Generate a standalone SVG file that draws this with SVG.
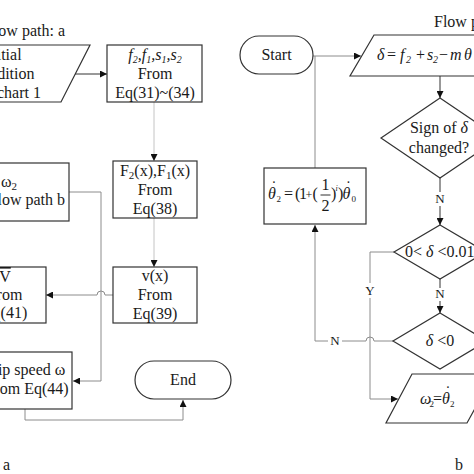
<svg xmlns="http://www.w3.org/2000/svg" width="474" height="474" viewBox="0 0 474 474">
<defs>
<marker id="ah" viewBox="0 0 10 10" refX="10" refY="5" markerWidth="7" markerHeight="7" orient="auto" markerUnits="userSpaceOnUse"><path d="M0,0 L10,5 L0,10 z" fill="#111"/></marker>
<style>
.s{fill:#fff;stroke:#333;stroke-width:1.2}
.t{font-family:"Liberation Serif","Times New Roman",serif;font-size:16px;fill:#1a1a1a}
.m{text-anchor:middle}
.i{font-style:italic}
.c{fill:none;stroke:#8c8c8c;stroke-width:1}
.cf{fill:none;stroke:#c4c4c4;stroke-width:1}
.cd{fill:none;stroke:#333;stroke-width:1}
.lb{font-size:13px}
</style>
</defs>
<rect width="474" height="474" fill="#fff"/>

<g id="connectors">
<line class="cd" x1="75" y1="74" x2="107" y2="74" marker-end="url(#ah)"/>
<line class="cf" x1="154" y1="102" x2="154" y2="161" marker-end="url(#ah)"/>
<line class="cf" x1="154" y1="218" x2="154" y2="267" marker-end="url(#ah)"/>
<path class="c" d="M113,295 H105 A4,4 0 0 0 97,295 H46" marker-end="url(#ah)"/>
<path class="c" d="M69,192 H101 V381 H73" marker-end="url(#ah)"/>
<path class="c" d="M25,409 V420 H183 V400" marker-end="url(#ah)"/>
<path class="c" d="M313,56 H361" marker-end="url(#ah)"/>
<path class="c" d="M315,56 V168"/>
<line class="cd" x1="440" y1="76" x2="440" y2="98" marker-end="url(#ah)"/>
<path class="cd" d="M440,178 V192 M440,206 V225" marker-end="url(#ah)"/>
<path class="cd" d="M440,279 V288 M440,301 V313" marker-end="url(#ah)"/>
<path class="c" d="M394,252 H370 V283 M370,298 V399 H398" marker-end="url(#ah)"/>
<path class="c" d="M393,341 H374 A4,4 0 0 0 366,341 H342 M328,341 H315 V225" marker-end="url(#ah)"/>
<text class="t lb m" x="440" y="203">N</text>
<text class="t lb m" x="440" y="298">N</text>
<text class="t lb m" x="370" y="295">Y</text>
<text class="t lb m" x="335" y="345">N</text>
</g>

<text class="t" x="-15" y="36" font-size="12">Flow path: a</text>
<text class="t" x="434" y="27" font-size="12">Flow path b</text>

<g id="initial">
<polygon class="s" points="-60,45 90,45 61,102 -89,102"/>
<text class="t m" x="2.5" y="60">Initial</text>
<text class="t m" x="2.5" y="79">Condition</text>
<text class="t m" x="2.5" y="98">Flowchart 1</text>
</g>

<g id="box-f">
<rect class="s" x="107" y="45" width="95" height="57"/>
<text class="t m i" x="155" y="60">f<tspan font-size="10" dy="3">2</tspan><tspan dy="-3">,f</tspan><tspan font-size="10" dy="3">1</tspan><tspan dy="-3">,s</tspan><tspan font-size="10" dy="3">1</tspan><tspan dy="-3">,s</tspan><tspan font-size="10" dy="3">2</tspan></text>
<text class="t m" x="155" y="79">From</text>
<text class="t m" x="155" y="98">Eq(31)~(34)</text>
</g>

<g id="box-F">
<rect class="s" x="113" y="161" width="84" height="57"/>
<text class="t m" x="155" y="176">F<tspan font-size="11" dy="3">2</tspan><tspan dy="-3">(x),F</tspan><tspan font-size="11" dy="3">1</tspan><tspan dy="-3">(x)</tspan></text>
<text class="t m" x="155" y="195">From</text>
<text class="t m" x="155" y="214">Eq(38)</text>
</g>

<g id="box-v">
<rect class="s" x="113" y="267" width="84" height="56"/>
<text class="t m" x="155" y="281">v(x)</text>
<text class="t m" x="155" y="300">From</text>
<text class="t m" x="155" y="319">Eq(39)</text>
</g>

<g id="box-omega">
<rect class="s" x="-10" y="163" width="79" height="58"/>
<text class="t" x="17" y="187" text-anchor="end">ω<tspan font-size="11" dy="3">2</tspan></text>
<text class="t" x="65" y="205" text-anchor="end">Flow path b</text>
</g>

<g id="box-vbar">
<rect class="s" x="-10" y="267" width="56" height="56"/>
<text class="t m" x="5" y="282" text-decoration="overline">V</text>
<text class="t m" x="5" y="300">From</text>
<text class="t m" x="5" y="318">Eq(41)</text>
</g>

<g id="box-tip">
<rect class="s" x="-10" y="352" width="82" height="57"/>
<text class="t m" x="27" y="375">Tip speed ω</text>
<text class="t m" x="27" y="394">From Eq(44)</text>
</g>

<g id="end">
<rect class="s" x="135" y="361" width="96" height="38" rx="19"/>
<text class="t m" x="183" y="385" font-size="15">End</text>
</g>

<text class="t" x="3" y="470" font-size="26">a</text>

<g id="start">
<rect class="s" x="240" y="36" width="73" height="38" rx="19"/>
<text class="t m" x="276.5" y="60" font-size="13">Start</text>
</g>

<g id="delta">
<polygon class="s" points="374,35 520,35 496,76 350,76"/>
<text class="t i" y="60"><tspan x="377">δ</tspan><tspan x="387" font-style="normal">=</tspan><tspan x="400">f</tspan><tspan x="406" dy="3" font-size="10">2</tspan><tspan x="416" dy="-3" font-style="normal">+</tspan><tspan x="427">s</tspan><tspan x="433" dy="3" font-size="10">2</tspan><tspan x="439" dy="-3" font-style="normal">−</tspan><tspan x="450">m</tspan><tspan x="464">θ</tspan></text>
</g>

<g id="sign">
<polygon class="s" points="440,98 499,138 440,178 381,138"/>
<text class="t m" x="439" y="133">Sign of <tspan class="i">δ</tspan></text>
<text class="t m" x="439" y="153">changed?</text>
</g>

<g id="range">
<polygon class="s" points="440,225 486,252 440,279 394,252"/>
<text class="t" x="405" y="257">0&lt; <tspan class="i">δ</tspan> &lt;0.01</text>
</g>

<g id="neg">
<polygon class="s" points="440,313 487,341 440,369 393,341"/>
<text class="t m" x="440" y="346"><tspan class="i">δ</tspan> &lt;0</text>
</g>

<g id="theta">
<rect class="s" x="264" y="168" width="102" height="56"/>
<text class="t" font-size="14" y="199"><tspan x="268" class="i">θ</tspan><tspan x="276.5" dy="3" font-size="9">2</tspan><tspan x="284" dy="-3">=</tspan><tspan x="295">(</tspan><tspan x="299">1</tspan><tspan x="305.5" font-size="12">+</tspan><tspan x="312.5">(</tspan><tspan x="331">)</tspan><tspan x="335.5" dy="-8" font-size="8" class="i">i</tspan><tspan x="338" dy="8">)</tspan><tspan x="342.5" class="i">θ</tspan><tspan x="351.5" dy="3" font-size="9">0</tspan></text>
<text class="t m" x="274" y="192" font-size="14">˙</text>
<text class="t m" x="348.5" y="192" font-size="14">˙</text>
<text class="t m" x="325.5" y="190" font-size="14">1</text>
<line x1="320.5" y1="195" x2="330.5" y2="195" stroke="#1a1a1a" stroke-width="0.9"/>
<text class="t m" x="325.5" y="211" font-size="14">2</text>
</g>

<g id="assign">
<polygon class="s" points="412,374 494,374 467,423 386,423"/>
<text class="t i" y="404" font-size="14"><tspan x="420">ω</tspan><tspan x="429.5" dy="3" font-size="9" font-style="normal">2</tspan><tspan x="433" dy="-3" font-style="normal">=</tspan><tspan x="442">θ</tspan><tspan x="450" dy="3" font-size="9" font-style="normal">2</tspan></text>
<text class="t m" x="448" y="397" font-size="14">˙</text>
</g>

<text class="t" x="455" y="470" font-size="24">b</text>
</svg>
